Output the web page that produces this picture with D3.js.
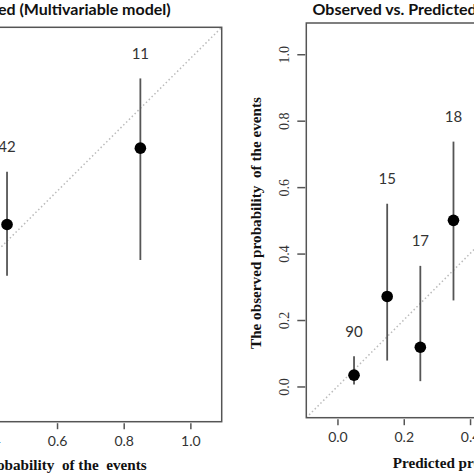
<!DOCTYPE html>
<html>
<head>
<meta charset="utf-8">
<script src="https://cdn.jsdelivr.net/npm/d3@7"></script>
<style>
  html, body { margin: 0; padding: 0; background: #fff; }
  svg { display: block; }
  .title { font-family: Lato, sans-serif; font-weight: bold; font-size: 16px; fill: #111; }
  .sans { font-family: Lato, sans-serif; font-size: 14px; fill: #333; }
  .serif { font-family: 'Liberation Serif', serif; font-size: 13px; fill: #333; }
  .axtitle { font-family: 'Liberation Serif', serif; font-weight: bold; font-size: 15.2px; fill: #111; }
  .box { fill: none; stroke: #555; stroke-width: 1.5; }
  .tick line { stroke: #555; stroke-width: 1.5; }
  .diag { stroke: #bbb; stroke-width: 1.5; stroke-dasharray: 1.5 2.5; }
  .bar { stroke: #555; stroke-width: 1.8; }
</style>
</head>
<body>
<svg id="chart" width="474" height="474"></svg>
<script>
// left panel (multivariable model)
const leftPred = [0.45, 0.85];
const leftObs = [0.50, 0.73];
const leftLower = [0.346, 0.393];
const leftUpper = [0.659, 0.94];
const leftN = [42, 11];

// right panel
const rightPred = [0.05, 0.15, 0.25, 0.35];
const rightObs = [0.034, 0.271, 0.118, 0.50];
const rightLower = [0.006, 0.078, 0.016, 0.259];
const rightUpper = [0.091, 0.55, 0.363, 0.737];
const rightN = [90, 15, 17, 18];

const tickValues = [0, 0.2, 0.4, 0.6, 0.8, 1.0];
const domain = [-0.094, 1.094];

const svg = d3.select('#chart');

function panel(cfg) {
  const x = d3.scaleLinear().domain(domain).range([cfg.left, cfg.right]);
  const y = d3.scaleLinear().domain(domain).range([cfg.bottom, cfg.top]);
  const g = svg.append('g');

  const clipId = 'clip' + cfg.id;
  g.append('clipPath').attr('id', clipId)
    .append('rect')
    .attr('x', cfg.left).attr('y', cfg.top)
    .attr('width', cfg.right - cfg.left).attr('height', cfg.bottom - cfg.top);

  // y = x reference
  g.append('line')
    .attr('class', 'diag')
    .attr('clip-path', `url(#${clipId})`)
    .attr('x1', x(domain[0])).attr('y1', y(domain[0]))
    .attr('x2', x(domain[1])).attr('y2', y(domain[1]));

  // x axis
  const xAxis = g.append('g')
    .attr('transform', `translate(0, ${cfg.bottom + 1.5})`)
    .call(d3.axisBottom(x).tickValues(tickValues).tickFormat(d3.format('.1f')).tickSize(6).tickPadding(7));
  xAxis.select('.domain').remove();
  xAxis.selectAll('text').attr('class', 'sans').attr('fill', null).style('font-size', '14px');

  // y axis (rotated serif labels)
  const yAxis = g.append('g')
    .attr('transform', `translate(${cfg.left - 1}, 0)`)
    .call(d3.axisLeft(y).tickValues(tickValues).tickFormat(d3.format('.1f')).tickSize(8));
  yAxis.select('.domain').remove();
  yAxis.selectAll('text')
    .attr('class', 'serif')
    .attr('fill', null)
    .attr('x', null).attr('dy', null)
    .attr('text-anchor', 'middle')
    .attr('transform', 'translate(-21, 0) rotate(-90)')
    .attr('dominant-baseline', 'central')
    .style('font-size', '14px');

  // box
  g.append('rect')
    .attr('class', 'box')
    .attr('x', cfg.left).attr('y', cfg.top)
    .attr('width', cfg.right - cfg.left).attr('height', cfg.bottom - cfg.top);

  const idx = d3.range(cfg.pred.length);

  g.selectAll('.bar').data(idx).enter().append('line')
    .attr('class', 'bar')
    .attr('x1', i => x(cfg.pred[i])).attr('x2', i => x(cfg.pred[i]))
    .attr('y1', i => y(cfg.lower[i])).attr('y2', i => y(cfg.upper[i]));

  g.selectAll('.pt').data(idx).enter().append('circle')
    .attr('class', 'pt')
    .attr('cx', i => x(cfg.pred[i]))
    .attr('cy', i => y(cfg.obs[i]))
    .attr('r', 5.8)
    .attr('fill', '#000');

  g.selectAll('.n').data(idx).enter().append('text')
    .attr('class', 'sans')
    .attr('x', i => x(cfg.pred[i]))
    .attr('y', i => y(cfg.upper[i] + 0.075))
    .attr('dy', '0.35em')
    .attr('text-anchor', 'middle')
    .style('font-size', '15px')
    .text(i => cfg.n[i]);

  return { x, y };
}

// left panel, cut at the image's left edge
panel({
  id: 'L', left: -174.3, right: 221.7, top: 27.3, bottom: 421.7,
  pred: leftPred, obs: leftObs, lower: leftLower, upper: leftUpper, n: leftN,
});

// right panel, cut at the image's right edge
panel({
  id: 'R', left: 306.3, right: 700.1, top: 23, bottom: 417.7,
  pred: rightPred, obs: rightObs, lower: rightLower, upper: rightUpper, n: rightN,
});

// titles
svg.append('text').attr('class', 'title')
  .attr('x', 170.7).attr('y', 14.5).attr('text-anchor', 'end')
  .text('Observed vs. Predicted (Multivariable model)');
svg.append('text').attr('class', 'title')
  .attr('x', 312.5).attr('y', 14.5)
  .text('Observed vs. Predicted (Univariable model)');

// axis titles
svg.append('text').attr('class', 'axtitle')
  .attr('x', 146.7).attr('y', 470).attr('text-anchor', 'end')
  .attr('xml:space', 'preserve')
  .text('Predicted probability  of the  events');
svg.append('text').attr('class', 'axtitle')
  .attr('x', 392.7).attr('y', 468)
  .attr('xml:space', 'preserve')
  .text('Predicted probability  of the events');
svg.append('text').attr('class', 'axtitle')
  .attr('transform', 'translate(261, 349) rotate(-90)')
  .attr('xml:space', 'preserve')
  .text('The observed probability  of the events');
</script>
</body>
</html>
